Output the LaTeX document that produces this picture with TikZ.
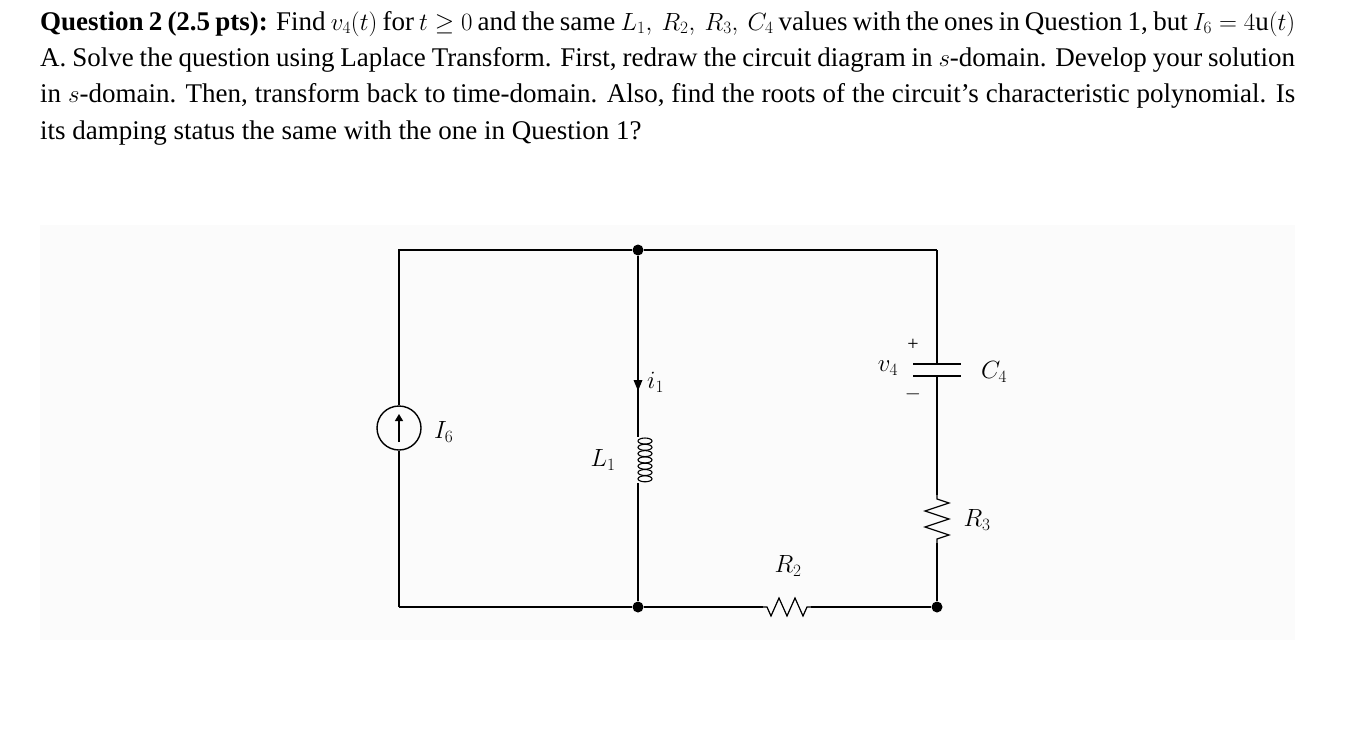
\documentclass[tikz,border=0pt]{standalone}
\usepackage{fontspec}
\setmainfont{Liberation Serif}
\usetikzlibrary{shapes.geometric,arrows.meta}
\begin{document}
\begin{tikzpicture}[x=1pt,y=-1pt,
  wire/.style={line width=1.4pt},
  dotnode/.style={circle,fill=black,inner sep=0,minimum size=11pt},
  lbl/.style={font=\fontsize{25}{28}\selectfont,inner sep=0}]
\useasboundingbox (0,0) rectangle (1362,740);
\fill[white] (0,0) rectangle (1362,740);
\fill[black!1.5] (40,225) rectangle (1295,640);
\node[anchor=north west,inner sep=0,text width=1255pt,align=justify,
  font=\fontsize{27}{36.3}\selectfont] (txt) at (40,11)
{\textbf{Question 2 (2.5 pts):} Find $v_4(t)$ for $t\geq 0$ and the same $L_1,\ R_2,\ R_3,\ C_4$ values with the ones in Question 1, but $I_6=4\mathrm{u}(t)$ A. Solve the question using Laplace Transform. First, redraw the circuit diagram in $s$-domain. Develop your solution in $s$-domain. Then, transform back to time-domain. Also, find the roots of the circuit's characteristic polynomial. Is its damping status the same with the one in Question 1?};
% corners and junctions
\coordinate (tl) at (399,250);
\coordinate (bl) at (399,607);
\node[dotnode] (tm) at (638,250) {};
\node[dotnode] (bm) at (638,607) {};
\node[dotnode] (br) at (937,607) {};
\coordinate (tr) at (937,250);
% source
\node[draw,circle,line width=1.4pt,minimum size=44pt,inner sep=0] (src) at (399,428) {};
\draw[wire,-{Triangle[length=7pt,width=8pt]}] (399,442) -- (399,414);
\node[lbl,anchor=west] (i6) at (434,432) {$I_6$};
\draw[wire] (bl) -- (src.south);
\draw[wire] (src.north) -- (tl) -- (tm) -- (tr);
% inductor
\coordinate (la) at (638,437);
\coordinate (lb) at (638,483);
\draw[wire] (tm) -- (la);
\foreach \k in {0,...,6}
  \draw[line width=1.1pt] (645,{441+6.3*\k}) ellipse[x radius=7,y radius=3];
\draw[wire] (lb) -- (bm);
\node[lbl] (l1) at (603,460) {$L_1$};
\node[fill=black,isosceles triangle,shape border rotate=-90,inner sep=0,minimum width=9pt,minimum height=9pt] (arr) at (638,383) {};
\node[lbl,anchor=west] (i1) at (647,382) {$i_1$};
% bottom wire with R2
\coordinate (r2a) at (763,607);
\coordinate (r2b) at (811,607);
\draw[wire] (bl) -- (bm) -- (r2a);
\draw[line width=1.2pt] (r2a) -- ++(4,0) -- ++(4,9) -- ++(8,-18) -- ++(8,18) -- ++(8,-18) -- ++(8,18) -- ++(4,-9) -- (r2b);
\draw[wire] (r2b) -- (br);
\node[lbl] (r2l) at (788,566) {$R_2$};
% right branch
\coordinate (ca) at (937,364);
\coordinate (cb) at (937,376);
\draw[wire] (tr) -- (ca);
\draw[line width=1.6pt] (913,364) -- (961,364) (913,376) -- (961,376);
\node[lbl] (v4) at (888,368) {$v_4$};
\node[lbl] (c4) at (994,372) {$C_4$};
\node[font=\fontsize{20}{20}\selectfont,inner sep=0] (pl) at (913,345) {+};
\node[font=\fontsize{20}{20}\selectfont,inner sep=0] (mi) at (913,394) {$-$};
\coordinate (r3a) at (937,495);
\coordinate (r3b) at (937,543);
\draw[wire] (cb) -- (r3a);
\draw[line width=1.2pt] (r3a) -- ++(0,4) -- ++(12,4) -- ++(-24,8) -- ++(24,8) -- ++(-24,8) -- ++(24,8) -- ++(-12,4) -- (r3b);
\draw[wire] (r3b) -- (br);
\node[lbl] (r3l) at (977,520) {$R_3$};
\end{tikzpicture}
\end{document}
